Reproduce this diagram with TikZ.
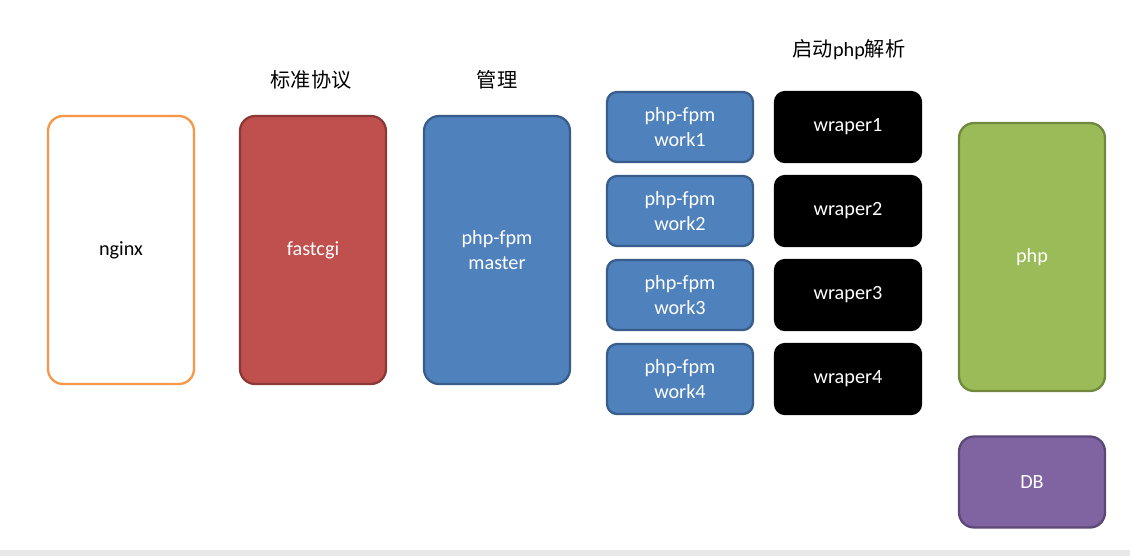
\documentclass[tikz,border=0pt]{standalone}
\usepackage{fontspec}
\setmainfont{Carlito}
\newfontfamily\cjk{Noto Sans CJK SC}
\begin{document}
\begin{tikzpicture}[x=0.02cm,y=-0.02cm,
  box/.style={draw,line width=1.3pt,rounded corners=0.3cm,font=\fontsize{11.5}{14}\selectfont,align=center},
  lab/.style={font=\fontsize{11.5}{14}\selectfont}]
\useasboundingbox (0,0) rectangle (1130,556);
\fill[gray!18] (0,550) rectangle (1130,556);
\definecolor{org}{HTML}{F79646}
\definecolor{red1}{HTML}{C0504D}\definecolor{red2}{HTML}{8C3836}
\definecolor{blu1}{HTML}{4F81BD}\definecolor{blu2}{HTML}{385D8A}
\definecolor{grn1}{HTML}{9BBB59}\definecolor{grn2}{HTML}{71893F}
\definecolor{pur1}{HTML}{8064A2}\definecolor{pur2}{HTML}{5C4776}
\node[box,draw=org,fill=white,minimum width=2.92cm,minimum height=5.36cm] (nginx) at (121,250) {nginx};
\node[box,draw=red2,fill=red1,text=white,minimum width=2.92cm,minimum height=5.36cm] (fcgi) at (313,250) {fastcgi};
\node[box,draw=blu2,fill=blu1,text=white,minimum width=2.92cm,minimum height=5.36cm] (master) at (497,250) {php-fpm\\master};
\foreach \i/\y in {1/127,2/211,3/295,4/379}{
  \node[box,draw=blu2,fill=blu1,text=white,minimum width=2.92cm,minimum height=1.4cm,rounded corners=0.2cm] (w\i) at (680,\y) {php-fpm\\work\i};
  \node[box,draw=black,fill=black,text=white,minimum width=2.92cm,minimum height=1.4cm,rounded corners=0.2cm] (r\i) at (848,\y) {wraper\i};
}
\node[box,draw=grn2,fill=grn1,text=white,minimum width=2.92cm,minimum height=5.36cm] (php) at (1032,257) {php};
\node[box,draw=pur2,fill=pur1,text=white,minimum width=2.92cm,minimum height=1.82cm] (db) at (1032,482) {DB};
\node[lab] (l1) at (311,80) {\cjk 标准协议};
\node[lab] (l2) at (497,80) {\cjk 管理};
\node[lab] (l3) at (849,50) {{\cjk 启动}php{\cjk 解析}};
\end{tikzpicture}
\end{document}
